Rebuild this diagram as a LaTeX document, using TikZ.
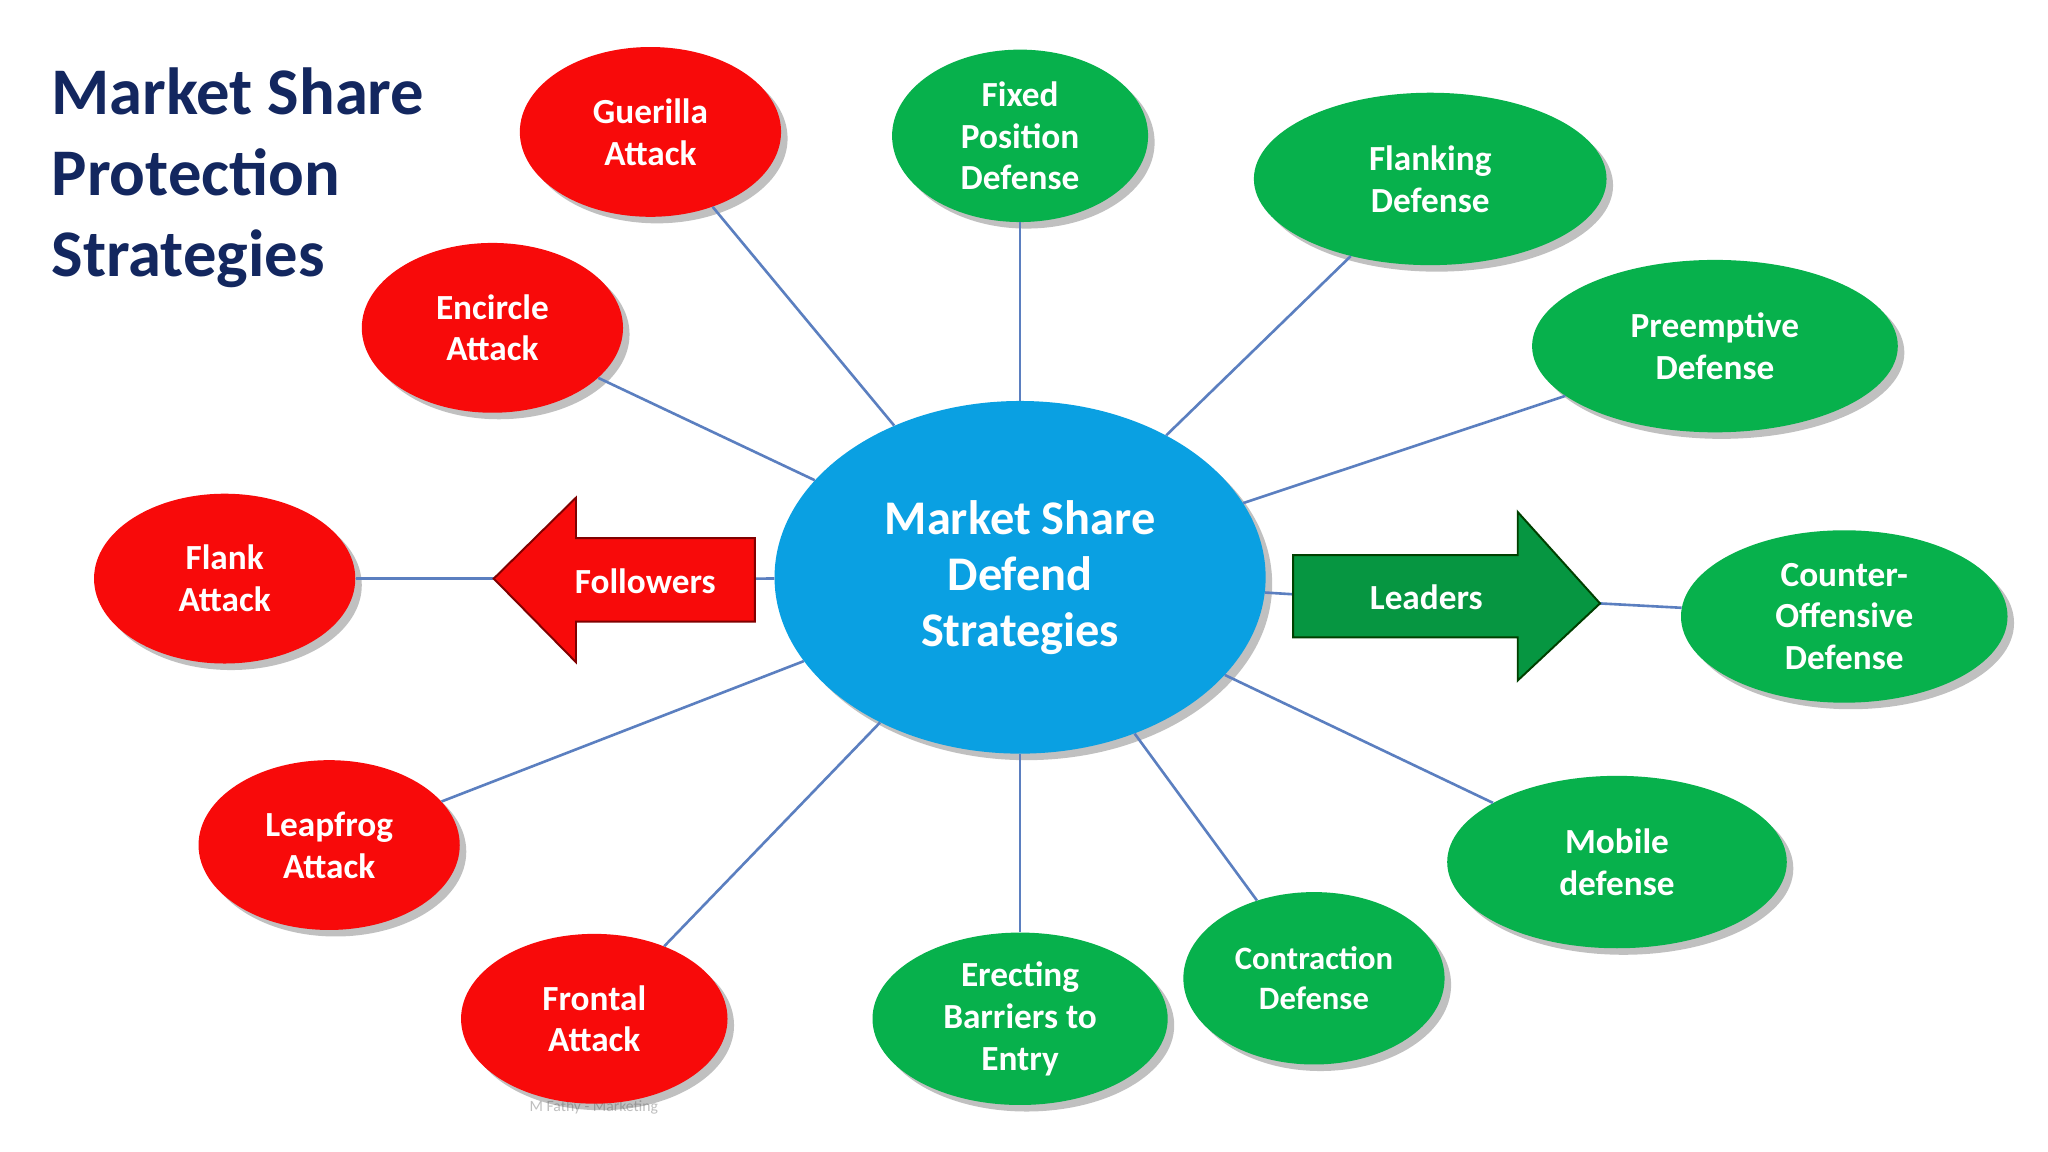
\documentclass[tikz,border=0pt]{standalone}
\usepackage{fontspec}
\setmainfont{Carlito}
\usetikzlibrary{shapes.geometric,shadows}
\definecolor{red1}{HTML}{F80A0A}
\definecolor{grn}{HTML}{07B14C}
\definecolor{cy}{HTML}{0AA0E2}
\definecolor{navy}{HTML}{13275F}
\definecolor{ln}{HTML}{5B7FC0}
\begin{document}
\begin{tikzpicture}[x=1pt,y=-1pt,
  bub/.style={ellipse,inner sep=0pt,text=white,align=center,font=\bfseries\fontsize{27}{32}\selectfont,
    drop shadow={shadow xshift=5pt,shadow yshift=-5pt,opacity=0.35,fill=black!70}},
  rb/.style={bub,fill=red1},
  gb/.style={bub,fill=grn},
  con/.style={draw=ln,line width=2pt}]
\useasboundingbox (0,0) rectangle (1568,882);
\fill[white] (0,0) rectangle (1568,882);
\node[anchor=north west,align=left,text=navy,font=\bfseries\fontsize{51}{62}\selectfont] (title) at (36,48) {Market Share\\Protection\\Strategies};
\node[anchor=west,text=black!25,font=\fontsize{12}{14}\selectfont] (wm) at (402,848) {M Fathy - Marketing};
\coordinate (fa) at (378,443);
\coordinate (fb) at (578,443);
\coordinate (la) at (990,455);
\coordinate (lb) at (1225,462);
\node[bub,fill=cy,minimum width=376pt,minimum height=270pt,font=\bfseries\fontsize{37}{43}\selectfont] (c) at (781,442) {Market Share\\Defend\\Strategies};
\node[rb,minimum width=200pt,minimum height=130pt] (gu) at (498,101) {Guerilla\\Attack};
\node[rb,minimum width=200pt,minimum height=130pt] (en) at (377,251) {Encircle\\Attack};
\node[rb,minimum width=200pt,minimum height=130pt] (fl) at (172,443) {Flank\\Attack};
\node[rb,minimum width=200pt,minimum height=130pt] (le) at (252,647) {Leapfrog\\Attack};
\node[rb,minimum width=204pt,minimum height=130pt] (fr) at (455,780) {Frontal\\Attack};
\node[gb,minimum width=196pt,minimum height=132pt] (fi) at (781,104) {Fixed\\Position\\Defense};
\node[gb,minimum width=270pt,minimum height=132pt] (fk) at (1095,137) {Flanking\\Defense};
\node[gb,minimum width=280pt,minimum height=132pt] (pr) at (1313,265) {Preemptive\\Defense};
\node[gb,minimum width=250pt,minimum height=132pt] (co) at (1412,472) {Counter-\\Offensive\\Defense};
\node[gb,minimum width=260pt,minimum height=132pt] (mo) at (1238,660) {Mobile\\defense};
\node[gb,minimum width=200pt,minimum height=132pt,font=\bfseries\fontsize{25}{31}\selectfont] (ct) at (1006,749) {Contraction\\Defense};
\node[gb,minimum width=226pt,minimum height=132pt] (er) at (781,780) {Erecting\\Barriers to\\Entry};
\foreach \n in {gu,en,le,fr,fi,fk,pr,mo,ct,er} \draw[con] (c) -- (\n);
\draw[con] (fl) -- (fa);
\draw[con] (fb) -- (c);
\draw[con] (c) -- (la);
\draw[con] (lb) -- (co);
\filldraw[fill=red1,draw=red!50!black,line width=1.5pt] (fa) -- (441,381) -- (441,412) -- (578,412) -- (578,476) -- (441,476) -- (441,507) -- cycle;
\node[text=white,font=\bfseries\fontsize{27}{32}\selectfont] (fo) at (494,445) {Followers};
\filldraw[fill=grn!85!black,draw=green!25!black,line width=1.5pt] (la) ++(0,-30) -- (1162,425) -- (1162,392) -- (lb) -- (1162,521) -- (1162,488) -- (990,488) -- cycle;
\node[text=white,font=\bfseries\fontsize{27}{32}\selectfont] (ld) at (1092,457) {Leaders};
\end{tikzpicture}
\end{document}
